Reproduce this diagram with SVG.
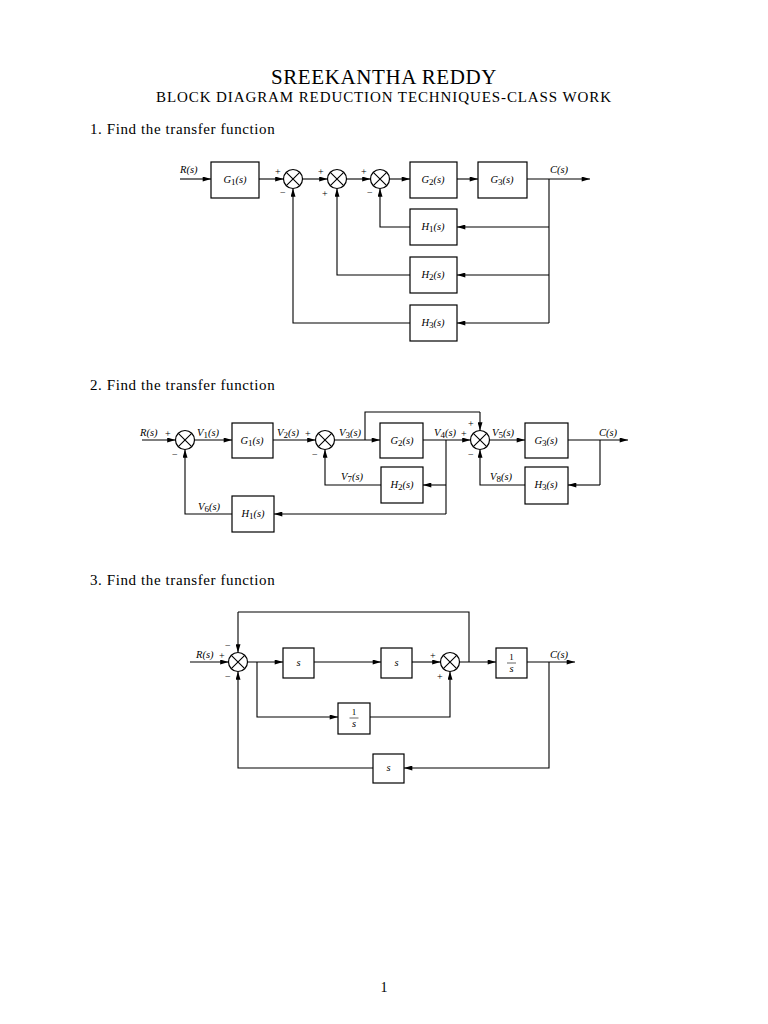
<svg xmlns="http://www.w3.org/2000/svg" width="768" height="1024" viewBox="0 0 768 1024">
<defs>
<marker id="a" viewBox="0 0 10 6" refX="10" refY="3" markerWidth="9" markerHeight="5" orient="auto" markerUnits="userSpaceOnUse"><path d="M0,0 L10,3 L0,6 Z" fill="#000"/></marker>
<g id="sj"><circle r="9.5" fill="#fff" stroke="#000" stroke-width="1.2"/><path d="M-6.7,-6.7 L6.7,6.7 M-6.7,6.7 L6.7,-6.7" stroke="#000" stroke-width="1.1"/></g>
</defs>
<style>
text{font-family:"Liberation Serif","Times New Roman",serif;fill:#000}
.t{font-size:15px;letter-spacing:0.6px}
.l{font-size:10.5px;font-style:italic}
.s{font-size:9px}
.g{font-size:10px}
.b rect{fill:#fff;stroke:#000;stroke-width:1.2}
.c path{fill:none;stroke:#000;stroke-width:1.1}
.c path.r{marker-end:url(#a)}
</style>
<rect width="768" height="1024" fill="#fff"/>
<text x="384" y="84" text-anchor="middle" font-size="21" letter-spacing="0.6">SREEKANTHA REDDY</text>
<text x="384" y="102" text-anchor="middle" font-size="15" letter-spacing="0.9">BLOCK DIAGRAM REDUCTION TECHNIQUES-CLASS WORK</text>
<text class="t" x="90" y="134">1.  Find the transfer function</text>
<text class="t" x="90" y="390">2.  Find the transfer function</text>
<text class="t" x="90" y="585">3.  Find the transfer function</text>
<text x="384" y="992" text-anchor="middle" font-size="14">1</text>

<!-- Diagram 1 -->
<g class="c" id="conn1">
<path class="r" d="M180,179 H211"/>
<path class="r" d="M259,179 H283.5"/>
<path class="r" d="M302.5,179 H327.5"/>
<path class="r" d="M346.5,179 H370.5"/>
<path class="r" d="M389.5,179 H410"/>
<path class="r" d="M457,179 H478"/>
<path class="r" d="M527,179 H590"/>
<path d="M549,179 V323"/>
<path class="r" d="M549,227 H457"/>
<path class="r" d="M549,275 H457"/>
<path class="r" d="M549,323 H457"/>
<path class="r" d="M410,227 H380 V188.5"/>
<path class="r" d="M410,275 H337 V188.5"/>
<path class="r" d="M410,323 H293 V188.5"/>
</g>
<g class="b">
<g id="G1a"><rect x="211" y="162" width="48" height="36"/><text class="l" x="235" y="183" text-anchor="middle">G<tspan class="s" dy="2" font-style="normal">1</tspan><tspan dy="-2">(s)</tspan></text></g>
<g id="G2a"><rect x="410" y="162" width="47" height="36"/><text class="l" x="433" y="183" text-anchor="middle">G<tspan class="s" dy="2" font-style="normal">2</tspan><tspan dy="-2">(s)</tspan></text></g>
<g id="G3a"><rect x="478" y="162" width="49" height="36"/><text class="l" x="502" y="183" text-anchor="middle">G<tspan class="s" dy="2" font-style="normal">3</tspan><tspan dy="-2">(s)</tspan></text></g>
<g id="H1a"><rect x="410" y="209" width="47" height="36"/><text class="l" x="433" y="230" text-anchor="middle">H<tspan class="s" dy="2" font-style="normal">1</tspan><tspan dy="-2">(s)</tspan></text></g>
<g id="H2a"><rect x="410" y="257" width="47" height="36"/><text class="l" x="433" y="278" text-anchor="middle">H<tspan class="s" dy="2" font-style="normal">2</tspan><tspan dy="-2">(s)</tspan></text></g>
<g id="H3a"><rect x="410" y="305" width="47" height="36"/><text class="l" x="433" y="326" text-anchor="middle">H<tspan class="s" dy="2" font-style="normal">3</tspan><tspan dy="-2">(s)</tspan></text></g>
</g>
<g id="S1a"><use href="#sj" x="293" y="179"/><text class="g" x="275" y="175">+</text><text class="g" x="280" y="196">−</text></g>
<g id="S2a"><use href="#sj" x="337" y="179"/><text class="g" x="318" y="175">+</text><text class="g" x="322" y="197">+</text></g>
<g id="S3a"><use href="#sj" x="380" y="179"/><text class="g" x="361" y="175">+</text><text class="g" x="367" y="196">−</text></g>
<text class="l" x="180" y="173">R(s)</text>
<text class="l" x="550" y="173">C(s)</text>

<!-- Diagram 2 -->
<g class="c" id="conn2">
<path class="r" d="M142,440 H175.5"/>
<path class="r" d="M194.5,440 H232"/>
<path class="r" d="M273,440 H315.5"/>
<path class="r" d="M334.5,440 H380"/>
<path d="M365,440 V412 H480"/>
<path class="r" d="M480,412 V430.5"/>
<path class="r" d="M423,440 H470.5"/>
<path class="r" d="M489.5,440 H525"/>
<path class="r" d="M568,440 H628"/>
<path d="M446,440 V514"/>
<path class="r" d="M446,485 H423"/>
<path class="r" d="M446,514 H274"/>
<path d="M600,440 V485"/>
<path class="r" d="M600,485 H568"/>
<path class="r" d="M525,485 H480 V449.5"/>
<path class="r" d="M381,485 H325 V449.5"/>
<path class="r" d="M232,514 H185 V449.5"/>
</g>
<g class="b">
<g id="G1b"><rect x="232" y="423" width="41" height="35"/><text class="l" x="252" y="444" text-anchor="middle">G<tspan class="s" dy="2" font-style="normal">1</tspan><tspan dy="-2">(s)</tspan></text></g>
<g id="G2b"><rect x="380" y="423" width="43" height="35"/><text class="l" x="402" y="444" text-anchor="middle">G<tspan class="s" dy="2" font-style="normal">2</tspan><tspan dy="-2">(s)</tspan></text></g>
<g id="G3b"><rect x="525" y="423" width="43" height="35"/><text class="l" x="546" y="444" text-anchor="middle">G<tspan class="s" dy="2" font-style="normal">3</tspan><tspan dy="-2">(s)</tspan></text></g>
<g id="H2b"><rect x="381" y="467" width="42" height="36"/><text class="l" x="402" y="488" text-anchor="middle">H<tspan class="s" dy="2" font-style="normal">2</tspan><tspan dy="-2">(s)</tspan></text></g>
<g id="H3b"><rect x="525" y="467" width="43" height="37"/><text class="l" x="546" y="488" text-anchor="middle">H<tspan class="s" dy="2" font-style="normal">3</tspan><tspan dy="-2">(s)</tspan></text></g>
<g id="H1b"><rect x="232" y="496" width="42" height="36"/><text class="l" x="253" y="517" text-anchor="middle">H<tspan class="s" dy="2" font-style="normal">1</tspan><tspan dy="-2">(s)</tspan></text></g>
</g>
<g id="S1b"><use href="#sj" x="185" y="440"/><text class="g" x="165" y="437">+</text><text class="g" x="172" y="458">−</text></g>
<g id="S2b"><use href="#sj" x="325" y="440"/><text class="g" x="305" y="437">+</text><text class="g" x="312" y="458">−</text></g>
<g id="S3b"><use href="#sj" x="480" y="440"/><text class="g" x="461" y="437">+</text><text class="g" x="468" y="427">+</text><text class="g" x="468" y="458">−</text></g>
<text class="l" x="140" y="436">R(s)</text>
<text class="l" x="197" y="436">V<tspan class="s" dy="2" font-style="normal">1</tspan><tspan dy="-2">(s)</tspan></text>
<text class="l" x="277" y="436">V<tspan class="s" dy="2" font-style="normal">2</tspan><tspan dy="-2">(s)</tspan></text>
<text class="l" x="339" y="436">V<tspan class="s" dy="2" font-style="normal">3</tspan><tspan dy="-2">(s)</tspan></text>
<text class="l" x="434" y="436">V<tspan class="s" dy="2" font-style="normal">4</tspan><tspan dy="-2">(s)</tspan></text>
<text class="l" x="492" y="436">V<tspan class="s" dy="2" font-style="normal">5</tspan><tspan dy="-2">(s)</tspan></text>
<text class="l" x="599" y="436">C(s)</text>
<text class="l" x="341" y="480">V<tspan class="s" dy="2" font-style="normal">7</tspan><tspan dy="-2">(s)</tspan></text>
<text class="l" x="490" y="480">V<tspan class="s" dy="2" font-style="normal">8</tspan><tspan dy="-2">(s)</tspan></text>
<text class="l" x="198" y="510">V<tspan class="s" dy="2" font-style="normal">6</tspan><tspan dy="-2">(s)</tspan></text>

<!-- Diagram 3 -->
<g class="c" id="conn3">
<path class="r" d="M190,662 H228.5"/>
<path class="r" d="M247.5,662 H283"/>
<path class="r" d="M314,662 H381"/>
<path class="r" d="M412,662 H440.5"/>
<path class="r" d="M459.5,662 H496"/>
<path d="M469,662 V612 H238"/>
<path class="r" d="M238,612 V652.5"/>
<path class="r" d="M527,662 H575"/>
<path class="r" d="M257,662 V717 H338"/>
<path class="r" d="M370,717 H450 V671.5"/>
<path class="r" d="M549,662 V768 H404"/>
<path class="r" d="M373,768 H238 V671.5"/>
</g>
<g class="b">
<g id="B1"><rect x="283" y="648" width="31" height="30"/><text class="l" x="298.5" y="666" text-anchor="middle">s</text></g>
<g id="B2"><rect x="381" y="648" width="31" height="30"/><text class="l" x="396.5" y="666" text-anchor="middle">s</text></g>
<g id="B3"><rect x="496" y="648" width="31" height="30"/><text class="s" x="511.5" y="660" text-anchor="middle">1</text><path d="M507,663 H516" stroke="#000" stroke-width="0.6"/><text class="l" x="511.5" y="672" text-anchor="middle">s</text></g>
<g id="B4"><rect x="338" y="703" width="32" height="31"/><text class="s" x="354" y="715" text-anchor="middle">1</text><path d="M349.5,718 H358.5" stroke="#000" stroke-width="0.6"/><text class="l" x="354" y="727" text-anchor="middle">s</text></g>
<g id="B5"><rect x="373" y="754" width="31" height="29"/><text class="l" x="388.5" y="771" text-anchor="middle">s</text></g>
</g>
<g id="S1c"><use href="#sj" x="238" y="662"/><text class="g" x="219" y="659">+</text><text class="g" x="225" y="649">−</text><text class="g" x="225" y="680">−</text></g>
<g id="S2c"><use href="#sj" x="450" y="662"/><text class="g" x="430" y="659">+</text><text class="g" x="437" y="680">+</text></g>
<text class="l" x="196" y="658">R(s)</text>
<text class="l" x="550" y="658">C(s)</text>
</svg>
